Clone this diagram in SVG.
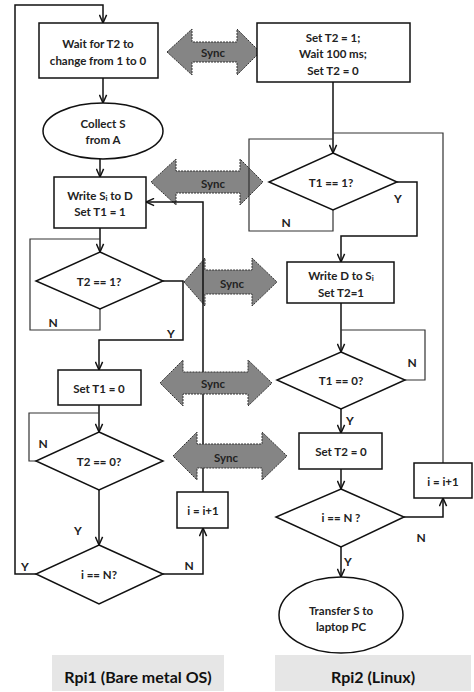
<svg xmlns="http://www.w3.org/2000/svg" width="474" height="692" viewBox="0 0 474 692">
<style>
.n{fill:#fff;stroke:#111;stroke-width:1.5}
.t{font-family:Lato,"Open Sans","Liberation Sans",sans-serif;font-size:11.5px;font-weight:bold;fill:#222;text-anchor:middle;dominant-baseline:central}
.l{font-family:Lato,"Open Sans","Liberation Sans",sans-serif;font-size:12px;font-weight:bold;fill:#222;text-anchor:middle;dominant-baseline:central}
.c{fill:none;stroke:#111;stroke-width:1.5}
.lp{fill:none;stroke:#333;stroke-width:1.2}
.s{fill:#858585;stroke:#333;stroke-width:1;stroke-dasharray:2 1}
.st{font-family:Lato,"Open Sans","Liberation Sans",sans-serif;font-size:11.5px;font-weight:bold;fill:#222;text-anchor:middle;dominant-baseline:central}
.lab{fill:#e6e6e6}
.lt{font-family:Lato,"Open Sans","Liberation Sans",sans-serif;font-size:16px;font-weight:bold;fill:#111;text-anchor:middle;dominant-baseline:central}
</style>
<defs>
<marker id="ah" viewBox="0 0 10 10" refX="10" refY="5" markerWidth="9" markerHeight="9" markerUnits="userSpaceOnUse" orient="auto">
<path d="M1,1 L10,5 L1,9" fill="none" stroke="#111" stroke-width="1.6"/>
</marker>
</defs>
<rect width="474" height="692" fill="#fff"/>
<g id="sync-back">
<g id="sync1"><polygon class="s" points="167,52 192,29 192,42 237,42 237,29 260,52 237,75 237,62 192,62 192,75"/><text class="st" x="213" y="52">Sync</text></g>
<g id="sync2"><polygon class="s" points="151,182 176,159 176,171 240,171 240,159 263,182 240,205 240,193 176,193 176,205"/><text class="st" x="213" y="183">Sync</text></g>
<g id="sync3"><polygon class="s" points="184,282 205,258 205,270 252,270 252,258 277,282 252,306 252,294 205,294 205,306"/><text class="st" x="232" y="283">Sync</text></g>
</g>
<g id="connectors">
<path class="c" d="M36,574 H15 V5 H103 V23" marker-end="url(#ah)"/>
<path class="c" d="M103,78 V103" marker-end="url(#ah)"/>
<path class="c" d="M100,159 V177" marker-end="url(#ah)"/>
<path class="c" d="M100,228 V252" marker-end="url(#ah)"/>
<path class="lp" d="M100,309 V330 H30 V239 H100"/>
<path class="c" d="M163,281 H183 V340 H99 V370" marker-end="url(#ah)"/>
<path class="c" d="M99,405 V432" marker-end="url(#ah)"/>
<path class="lp" d="M36,461 H29 V413 H99"/>
<path class="c" d="M99,490 V545" marker-end="url(#ah)"/>
<path class="c" d="M163,574 H203 V528" marker-end="url(#ah)"/>
<path class="c" d="M203,492 V202 H146" marker-end="url(#ah)"/>
<path class="c" d="M333,82 V153" marker-end="url(#ah)"/>
<path class="lp" d="M443,463 V133 H333"/>
<path class="lp" d="M333,210 V231 H249 V139 H333"/>
<path class="c" d="M397,182 H417 V236 H341 V262" marker-end="url(#ah)"/>
<path class="c" d="M341,303 V352" marker-end="url(#ah)"/>
<path class="lp" d="M405,380 H425 V330 H341"/>
<path class="c" d="M341,409 V433" marker-end="url(#ah)"/>
<path class="c" d="M341,469 V489" marker-end="url(#ah)"/>
<path class="c" d="M404,517 H443 V498" marker-end="url(#ah)"/>
<path class="c" d="M341,547 V577" marker-end="url(#ah)"/>
<text class="l" x="53" y="322">N</text>
<text class="l" x="171" y="333">Y</text>
<text class="l" x="43" y="443">N</text>
<text class="l" x="78" y="530">Y</text>
<text class="l" x="25" y="566">Y</text>
<text class="l" x="189" y="565">N</text>
<text class="l" x="286" y="222">N</text>
<text class="l" x="398" y="198">Y</text>
<text class="l" x="412" y="362">N</text>
<text class="l" x="350" y="420">Y</text>
<text class="l" x="421" y="537">N</text>
<text class="l" x="348" y="561">Y</text>
</g>
<g id="sync-front">
<g id="sync4"><polygon class="s" points="160,383 183,360 183,372 248,372 248,360 272,383 248,406 248,394 183,394 183,406"/><text class="st" x="213" y="383">Sync</text></g>
<g id="sync5"><polygon class="s" points="173,456 197,432 197,444 262,444 262,432 287,456 262,480 262,468 197,468 197,480"/><text class="st" x="226" y="457">Sync</text></g>
</g>
<g id="wait"><rect class="n" x="39" y="23" width="119" height="55"/><text class="t" x="98" y="43">Wait for T2 to</text><text class="t" x="98" y="60">change from 1 to 0</text></g>
<g id="collect"><ellipse class="n" cx="103" cy="131" rx="60" ry="28"/><text class="t" x="103" y="123">Collect S</text><text class="t" x="103" y="139">from A</text></g>
<g id="write1"><rect class="n" x="54" y="177" width="92" height="51"/><text class="t" x="100" y="195">Write S<tspan font-size="8" dy="3">i</tspan><tspan dy="-3"> to D</tspan></text><text class="t" x="100" y="211">Set T1 = 1</text></g>
<g id="t2eq1"><polygon class="n" points="100,252 163,281 100,309 36,281"/><text class="t" x="99" y="281">T2 == 1?</text></g>
<g id="sett1"><rect class="n" x="58" y="370" width="83" height="35"/><text class="t" x="99" y="388">Set T1 = 0</text></g>
<g id="t2eq0"><polygon class="n" points="99,432 163,461 99,490 36,461"/><text class="t" x="99" y="461">T2 == 0?</text></g>
<g id="ieqn1"><polygon class="n" points="99,545 163,574 99,604 36,574"/><text class="t" x="99" y="574">i == N?</text></g>
<g id="inc1"><rect class="n" x="177" y="492" width="51" height="36"/><text class="t" x="203" y="510">i = i+1</text></g>
<g id="sett2"><rect class="n" x="257" y="23" width="153" height="59"/><text class="t" x="333" y="37">Set T2 = 1;</text><text class="t" x="333" y="53">Wait 100 ms;</text><text class="t" x="333" y="70">Set T2 = 0</text></g>
<g id="t1eq1"><polygon class="n" points="333,153 397,182 333,210 269,182"/><text class="t" x="331" y="182">T1 == 1?</text></g>
<g id="write2"><rect class="n" x="287" y="262" width="107" height="41"/><text class="t" x="341" y="275">Write D to S<tspan font-size="8" dy="3">i</tspan></text><text class="t" x="341" y="292">Set T2=1</text></g>
<g id="t1eq0"><polygon class="n" points="341,352 405,380 341,409 277,380"/><text class="t" x="341" y="380">T1 == 0?</text></g>
<g id="sett20"><rect class="n" x="299" y="433" width="83" height="36"/><text class="t" x="341" y="451">Set T2 = 0</text></g>
<g id="ieqn2"><polygon class="n" points="341,489 404,517 341,547 276,517"/><text class="t" x="341" y="517">i == N ?</text></g>
<g id="inc2"><rect class="n" x="414" y="463" width="58" height="35"/><text class="t" x="443" y="481">i = i+1</text></g>
<g id="transfer"><ellipse class="n" cx="341" cy="615" rx="62" ry="38"/><text class="t" x="341" y="610">Transfer S to</text><text class="t" x="341" y="626">laptop PC</text></g>
<g id="label1"><rect class="lab" x="52" y="655" width="172" height="36"/><text class="lt" x="138" y="676">Rpi1 (Bare metal OS)</text></g>
<g id="label2"><rect class="lab" x="275" y="655" width="196" height="36"/><text class="lt" x="373" y="676">Rpi2 (Linux)</text></g>
</svg>
